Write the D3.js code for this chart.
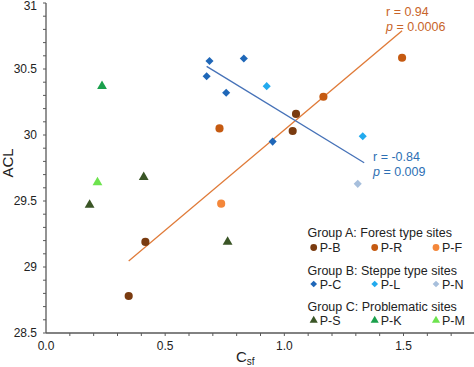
<!DOCTYPE html>
<html><head><meta charset="utf-8">
<script src="https://cdn.jsdelivr.net/npm/d3@7"></script>
<style>body{margin:0;background:#fff}svg{display:block;font-family:"Liberation Sans",Arial,sans-serif}</style>
</head><body><svg id="c" width="474" height="367"></svg>
<script>
const sites = ["P-B","P-R","P-F","P-C","P-L","P-N","P-S","P-K","P-M"];
const siteGroup = ["A","A","A","B","B","B","C","C","C"];
const siteColor = ["#7a3b10","#c55a11","#f4873a","#1f67b8","#22aaee","#a7bfdc","#3a5526","#1aa04c","#6de34e"];
const groupTitles = ["Group A: Forest type sites","Group B: Steppe type sites","Group C: Problematic sites"];
const pointSite = ["P-B","P-B","P-B","P-B","P-R","P-R","P-R","P-F","P-C","P-C","P-C","P-C","P-C","P-L","P-L","P-N","P-S","P-S","P-S","P-K","P-M"];
const pointCsf  = [0.347,0.417,1.035,1.049,0.728,1.164,1.494,0.735,0.686,0.674,0.756,0.830,0.951,0.926,1.329,1.308,0.183,0.410,0.762,0.235,0.216];
const pointACL  = [28.78,29.19,30.03,30.16,30.05,30.29,30.585,29.48,30.56,30.445,30.32,30.58,29.95,30.37,29.99,29.63,29.47,29.68,29.19,30.37,29.64];
const fitA_x = [0.347,1.494], fitA_y = [29.045,30.79];
const fitB_x = [0.674,1.335], fitB_y = [30.52,29.79];
const xTicks = [0,0.5,1.0,1.5], xTickLabels = ["0.0","0.5","1.0","1.5"];
const yTicks = [28.5,29,29.5,30,30.5,31], yTickLabels = ["28.5","29","29.5","30","30.5","31"];

const svg = d3.select("#c");
const x = d3.scaleLinear().domain([0,1.5]).range([46,403.5]);
const y = d3.scaleLinear().domain([28.5,31]).range([333,3]);
const axisCol = "#595959";
const tickFont = 12;

// axes
const xa = svg.append("g").attr("transform","translate(0,333)");
xa.append("line").attr("x1",46).attr("x2",474).attr("stroke",axisCol).attr("stroke-width",1.3);
const xMinor = d3.range(1,18).map(i=>i/10);
xa.selectAll(".xm").data(xMinor).join("line").attr("x1",d=>x(d)).attr("x2",d=>x(d)).attr("y1",0).attr("y2",3).attr("stroke",axisCol);
xa.selectAll(".xt").data(xTicks).join("text").attr("x",d=>x(d)).attr("y",17).attr("text-anchor","middle").attr("font-size",tickFont).attr("fill","#222").text((d,i)=>xTickLabels[i]);

const ya = svg.append("g").attr("transform","translate(46,0)");
ya.append("line").attr("y1",y(31)).attr("y2",333).attr("stroke",axisCol).attr("stroke-width",1.3);
const yMinor = d3.range(0,26).map(i=>28.5+i/10);
ya.selectAll(".ym").data(yMinor).join("line").attr("x1",-3).attr("x2",0).attr("y1",d=>y(d)).attr("y2",d=>y(d)).attr("stroke",axisCol);
ya.selectAll(".yt").data(yTicks).join("text").attr("x",-9).attr("y",d=>Math.max(y(d)+4,10)).attr("text-anchor","end").attr("font-size",tickFont).attr("fill","#222").text((d,i)=>yTickLabels[i]);

// axis titles
const xl = svg.append("text").attr("x",236).attr("y",362).attr("font-size",15).attr("fill","#222");
xl.append("tspan").text("C");
xl.append("tspan").attr("font-size",10).attr("dy",3).text("sf");
svg.append("text").attr("transform","translate(13,163) rotate(-90)").attr("text-anchor","middle").attr("font-size",15).attr("fill","#222").text("ACL");

// fit lines
const line = d3.line().x(d=>x(d[0])).y(d=>y(d[1]));
svg.append("path").attr("d",line(fitA_x.map((v,i)=>[v,fitA_y[i]]))).attr("stroke","#e07b39").attr("stroke-width",1.3).attr("fill","none");
svg.append("path").attr("d",line(fitB_x.map((v,i)=>[v,fitB_y[i]]))).attr("stroke","#4672b8").attr("stroke-width",1.3).attr("fill","none");

function sym(g){ return g==="A"?d3.symbolCircle:(g==="B"?d3.symbolDiamond2:d3.symbolTriangle); }
function size(g,s){ return g==="A"?s*1.0:(g==="B"?s*0.8:s*0.8); }

const pts = pointSite.map((s,i)=>({s, g:siteGroup[sites.indexOf(s)], c:siteColor[sites.indexOf(s)], x:pointCsf[i], y:pointACL[i]}));
svg.selectAll(".pt").data(pts).join("path")
  .attr("transform",d=>`translate(${x(d.x)},${y(d.y)})`)
  .attr("d",d=>d3.symbol().type(sym(d.g)).size(size(d.g,52))())
  .attr("fill",d=>d.c);

// annotations
const orangeT="#c8642a", blueT="#2e70b4";
svg.append("text").attr("x",386).attr("y",16).attr("font-size",12.5).attr("fill",orangeT).text("r = 0.94");
const pa = svg.append("text").attr("x",386).attr("y",31).attr("font-size",12.5).attr("fill",orangeT);
pa.append("tspan").attr("font-style","italic").text("p");
pa.append("tspan").text(" = 0.0006");
svg.append("text").attr("x",373).attr("y",161).attr("font-size",12.5).attr("fill",blueT).text("r = -0.84");
const pb = svg.append("text").attr("x",373).attr("y",176).attr("font-size",12.5).attr("fill",blueT);
pb.append("tspan").attr("font-style","italic").text("p");
pb.append("tspan").text(" = 0.009");

// legend
const lg = svg.append("g");
const titleY = [237,274.5,311], itemY=[247.5,284,320.5];
const colX = [313.7,374.7,436];
groupTitles.forEach((t,gi)=>{
  lg.append("text").attr("x",307.5).attr("y",titleY[gi]).attr("font-size",12.5).attr("fill","#222").text(t);
});
sites.forEach((s,i)=>{
  const gi = Math.floor(i/3), ci = i%3;
  const g = siteGroup[i];
  lg.append("path").attr("transform",`translate(${colX[ci]},${itemY[gi]})`)
    .attr("d",d3.symbol().type(sym(g)).size(size(g,36))()).attr("fill",siteColor[i]);
  lg.append("text").attr("x",colX[ci]+6).attr("y",itemY[gi]+4.5).attr("font-size",12.5).attr("fill","#222").text(s);
});
</script></body></html>
